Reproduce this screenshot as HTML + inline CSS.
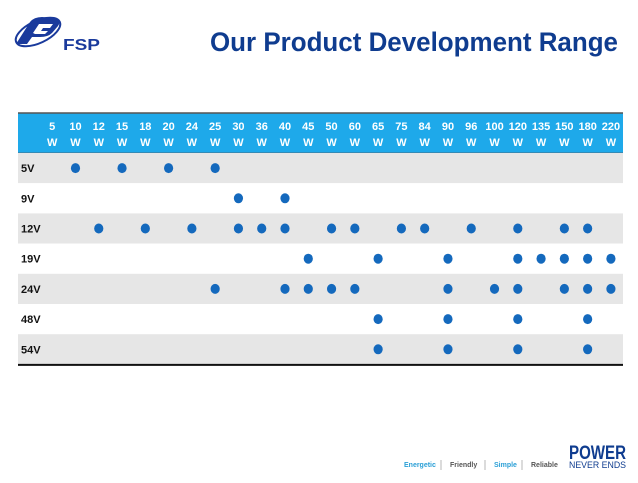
<!DOCTYPE html>
<html><head><meta charset="utf-8"><style>
body{margin:0;background:#fff;width:638px;height:478px;overflow:hidden;font-family:"Liberation Sans",sans-serif}
</style></head><body>
<svg width="638" height="478" xmlns="http://www.w3.org/2000/svg">
<g>
<ellipse cx="38" cy="32" rx="24" ry="11" transform="rotate(-25 38 32)" fill="none" stroke="#1a3a9c" stroke-width="2"/>
<path d="M16 44 L30 22 Q34 17 42 17 L56 18 Q62 20 58 26 L52 33 Q48 37 40 37 L32 37 L27 44 Z" fill="#1a3a9c"/>
<path d="M33 33 L39 24 L53 24 L50 28 L43 28 L41 31 L48 31 L45 34 L35 34 Z" fill="#fff"/>
<text x="63" y="50" font-size="16" font-weight="bold" fill="#1a3a9c" textLength="37" lengthAdjust="spacingAndGlyphs">FSP</text>
</g>
<text x="210" y="51" font-size="27" font-weight="bold" fill="#0f3c8f" textLength="408" lengthAdjust="spacingAndGlyphs">Our Product Development Range</text>
<g id="table"></g>
<g font-size="7" font-weight="bold">
<text x="404" y="467" fill="#2a9fd6">Energetic</text>
<line x1="441" y1="460" x2="441" y2="470" stroke="#999" stroke-width="0.7"/>
<text x="450" y="467" fill="#555">Friendly</text>
<line x1="485" y1="460" x2="485" y2="470" stroke="#999" stroke-width="0.7"/>
<text x="494" y="467" fill="#2a9fd6">Simple</text>
<line x1="522" y1="460" x2="522" y2="470" stroke="#999" stroke-width="0.7"/>
<text x="531" y="467" fill="#555">Reliable</text>
<text x="569" y="459" font-size="19" font-weight="bold" fill="#0f3c8f" textLength="57" lengthAdjust="spacingAndGlyphs">POWER</text>
<text x="569" y="468" font-size="9" font-weight="normal" fill="#0f3c8f" textLength="57" lengthAdjust="spacingAndGlyphs">NEVER ENDS</text>
</g>
</svg>
<script>
const watts=["5","10","12","15","18","20","24","25","30","36","40","45","50","60","65","75","84","90","96","100","120","135","150","180","220"];
const voltages=["5V","9V","12V","19V","24V","48V","54V"];
const r5V=["10","15","20","25"];
const r9V=["30","40"];
const r12V=["12","18","24","30","36","40","50","60","75","84","96","120","150","180"];
const r19V=["45","65","90","120","135","150","180","220"];
const r24V=["25","40","45","50","60","90","100","120","150","180","220"];
const r48V=["65","90","120","180"];
const r54V=["65","90","120","180"];
const rows=[r5V,r9V,r12V,r19V,r24V,r48V,r54V];
const NS="http://www.w3.org/2000/svg";
const g=document.getElementById('table');
const x0=18,x1=623,hTop=113,hBot=153,rowH=30.2;
const colX=i=>52.2+i*23.28;
const rowY=i=>hBot+i*rowH;
function mk(t,a){const e=document.createElementNS(NS,t);for(const k in a)e.setAttribute(k,a[k]);g.appendChild(e);return e;}
let e=mk('rect',{x:x0,y:hTop,width:x1-x0,height:hBot-hTop,fill:'#1ea9ea'});


mk('line',{x1:x0,y1:hTop,x2:x1,y2:hTop,stroke:'#555','stroke-width':1.5});
mk('line',{x1:x0,y1:hBot,x2:x1,y2:hBot,stroke:'#4a6a80','stroke-width':1});
watts.forEach((w,i)=>{
 const t=mk('text',{x:colX(i),y:130,'text-anchor':'middle','font-size':11,'font-weight':'bold',fill:'#fff'});
 t.textContent=w;
 
 
 const u=mk('text',{x:colX(i),y:146,'text-anchor':'middle','font-size':11,'font-weight':'bold',fill:'#fff'});
 u.textContent='W';
 
 
});
voltages.forEach((v,r)=>{
 const y=rowY(r);
 const bg=mk('rect',{x:x0,y:y,width:x1-x0,height:rowH,fill:r%2===0?'#e6e6e6':'#ffffff'});
 
 
 const t=mk('text',{x:21,y:y+rowH/2+4,'font-size':11,'font-weight':'bold',fill:'#111'});
 t.textContent=v;
 
 
 rows[r].forEach(w=>{
  const i=watts.indexOf(w);
  const c=mk('ellipse',{cx:colX(i),cy:y+rowH/2,rx:4.6,ry:5,fill:'#1469bd'});
  
  
 });
});
mk('line',{x1:x0,y1:rowY(7)+0.5,x2:x1,y2:rowY(7)+0.5,stroke:'#111','stroke-width':2});
</script>
</body></html>
